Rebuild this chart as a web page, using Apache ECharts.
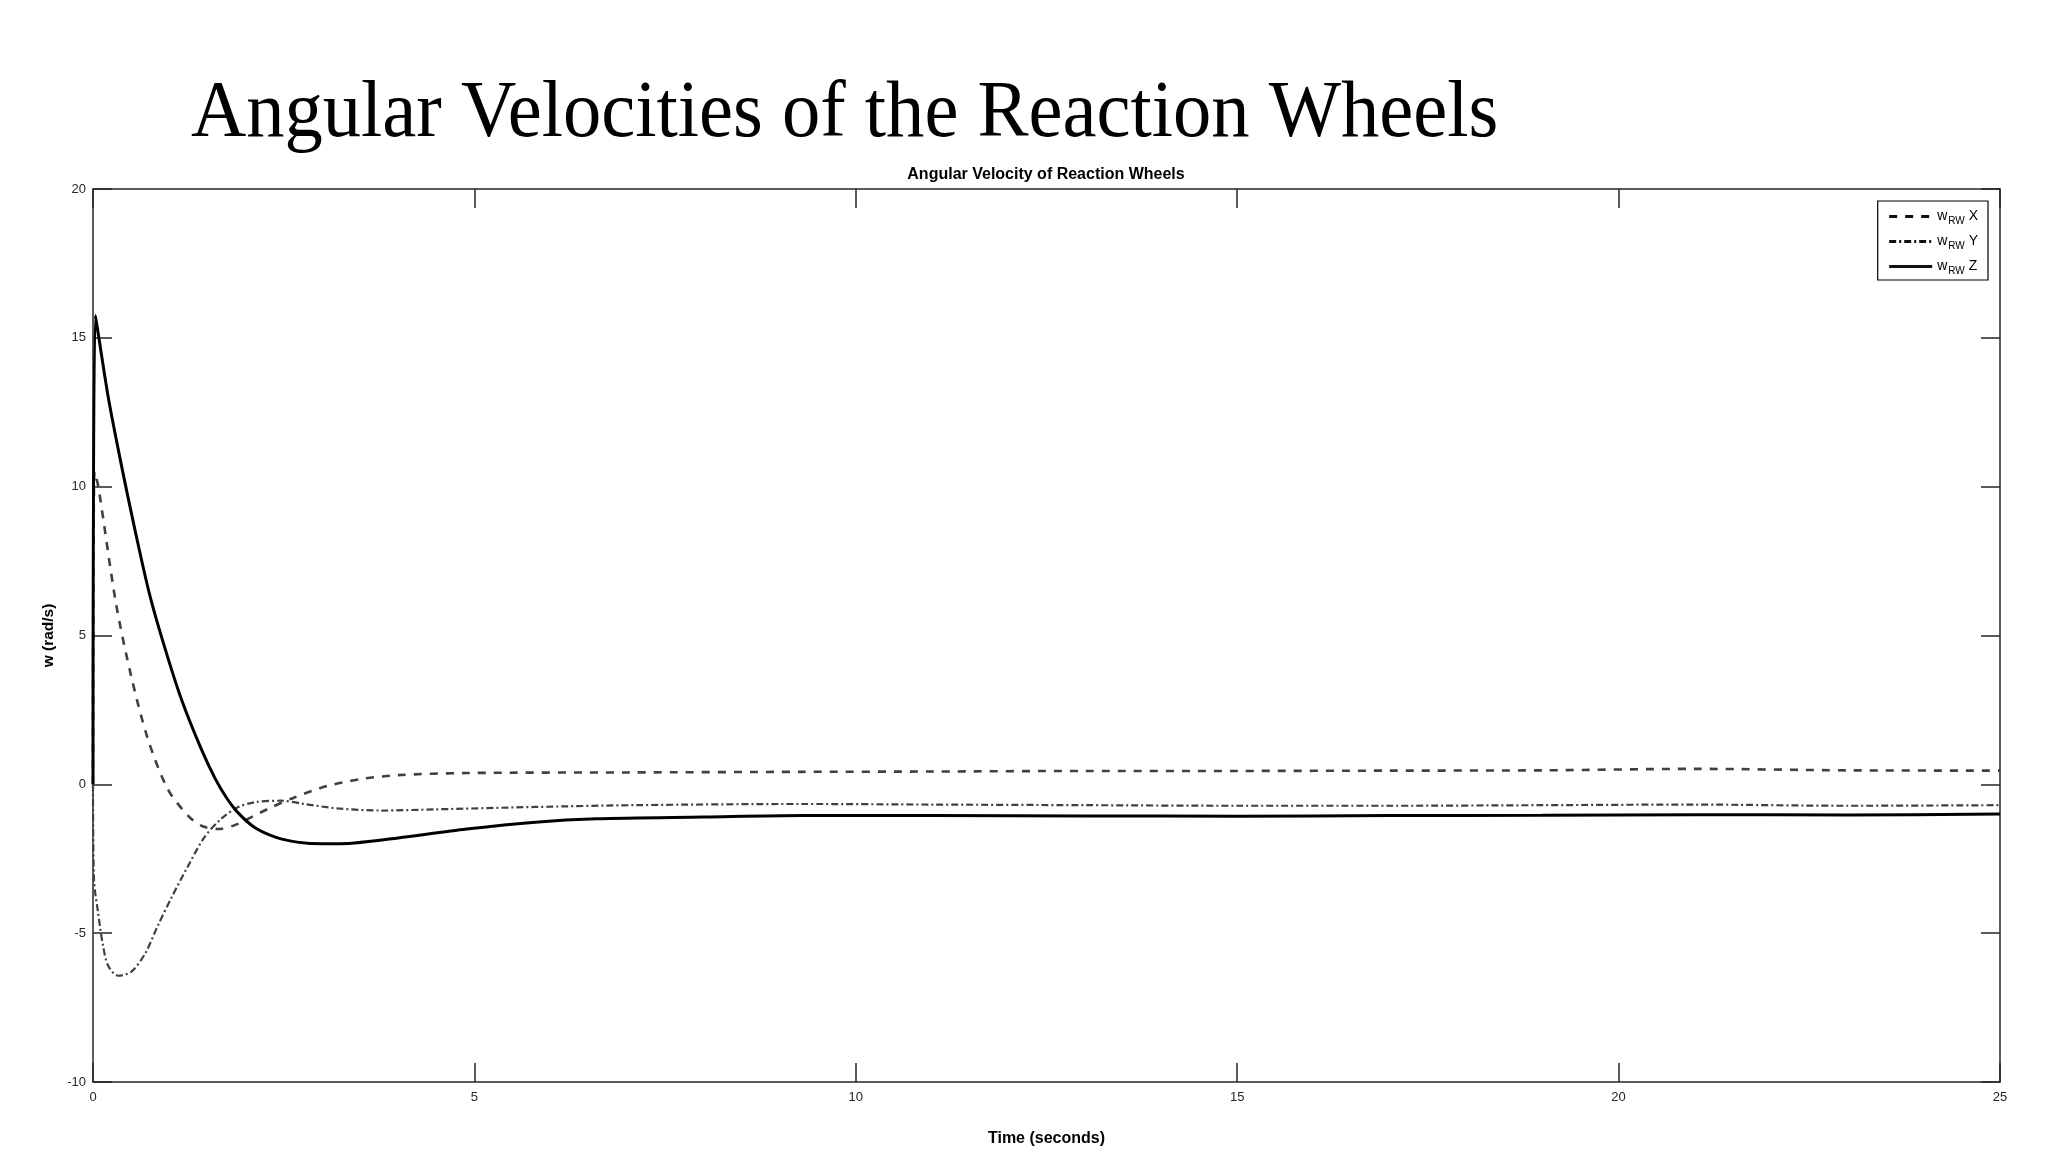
<!DOCTYPE html>
<html>
<head>
<meta charset="utf-8">
<title>Angular Velocities of the Reaction Wheels</title>
<script src="https://cdn.jsdelivr.net/npm/echarts@6/dist/echarts.min.js"></script>
<style>
  html, body { margin: 0; padding: 0; background: #fff; }
  #chart { width: 2048px; height: 1152px; }
</style>
</head>
<body>
<div id="chart"></div>
<script>
// values
const timeX = [0, 0.02, 0.07, 0.3, 0.5, 0.72, 0.98, 1.245, 1.42, 1.64, 1.86, 2.07, 2.29, 2.64, 3.08, 3.52, 4.0, 4.9, 7.0, 9.3, 11, 13, 15, 17, 19, 21, 23, 25];
const valX  = [0, 10.5, 10.0, 6.1, 3.64, 1.52, -0.16, -1.05, -1.39, -1.5, -1.37, -1.11, -0.83, -0.44, -0.05, 0.18, 0.31, 0.38, 0.4, 0.42, 0.43, 0.45, 0.45, 0.46, 0.47, 0.52, 0.47, 0.46];

const timeY = [0, 0.013, 0.066, 0.13, 0.2, 0.33, 0.5, 0.68, 0.85, 1.03, 1.245, 1.46, 1.68, 1.9, 2.12, 2.47, 2.77, 3.21, 3.78, 4.5, 5.8, 7.1, 9.3, 11, 13, 15, 17, 19, 21, 23, 25];
const valY  = [0, -3.2, -4.3, -5.4, -6.1, -6.43, -6.3, -5.7, -4.75, -3.8, -2.75, -1.78, -1.16, -0.77, -0.6, -0.55, -0.66, -0.81, -0.88, -0.84, -0.76, -0.7, -0.66, -0.68, -0.7, -0.72, -0.72, -0.7, -0.68, -0.72, -0.7];

const timeZ = [0, 0.03, 0.2, 0.37, 0.55, 0.74, 0.94, 1.16, 1.42, 1.6, 1.75, 1.9, 2.12, 2.4, 2.7, 3.0, 3.43, 4.0, 4.9, 5.8, 6.6, 8.0, 9.3, 11, 13, 15, 17, 19, 21, 23, 25];
const valZ  = [0, 15.75, 13.0, 10.75, 8.55, 6.4, 4.6, 2.85, 1.18, 0.2, -0.45, -0.95, -1.45, -1.78, -1.95, -2.0, -1.97, -1.8, -1.5, -1.27, -1.16, -1.1, -1.05, -1.05, -1.06, -1.07, -1.05, -1.04, -1.02, -1.03, -1.0];

const xTicks = [0, 5, 10, 15, 20, 25];
const yTicks = [-10, -5, 0, 5, 10, 15, 20];
const seriesNames = ['X', 'Y', 'Z'];

const pairs = (t, v) => t.map((ti, i) => [ti, v[i]]);

const chart = echarts.init(document.getElementById('chart'), null, { renderer: 'canvas' });

const axisColor = '#262626';
const tickLen = 19;

const baseX = {
  type: 'value',
  min: xTicks[0],
  max: xTicks[xTicks.length - 1],
  interval: 5,
  axisLine: { show: true, onZero: false, lineStyle: { color: axisColor, width: 1.5 } },
  axisTick: { show: true, inside: true, length: tickLen, lineStyle: { color: axisColor, width: 1.5 } },
  splitLine: { show: false },
};
const baseY = {
  type: 'value',
  min: yTicks[0],
  max: yTicks[yTicks.length - 1],
  interval: 5,
  axisLine: { show: true, onZero: false, lineStyle: { color: axisColor, width: 1.5 } },
  axisTick: { show: true, inside: true, length: tickLen, lineStyle: { color: axisColor, width: 1.5 } },
  splitLine: { show: false },
};

const legendLabel = (name) => '{w|w}{sub|RW}{w| ' + name + '}';

const option = {
  backgroundColor: '#fff',
  animation: false,
  title: {
    text: 'Angular Velocity of Reaction Wheels',
    left: 1046,
    textAlign: 'center',
    top: 167,
    padding: 0,
    textStyle: { fontFamily: 'Liberation Sans', fontWeight: 'bold', fontSize: 16, color: '#000' },
  },
  graphic: [
    {
      type: 'text',
      x: 191,
      y: 115,
      scaleX: 0.945,
      style: {
        text: 'Angular Velocities of the Reaction Wheels',
        font: '81px "Liberation Serif"',
        fill: '#000',
        align: 'left',
        verticalAlign: 'middle',
      },
    },
  ],
  legend: {
    orient: 'vertical',
    right: 60,
    top: 201,
    width: 103,
    backgroundColor: '#fff',
    borderColor: '#000',
    borderWidth: 1.2,
    borderRadius: 0,
    padding: [6, 10, 4, 10],
    itemWidth: 43,
    itemHeight: 12,
    itemGap: 6,
    itemStyle: { opacity: 0 },
    lineStyle: { width: 3, color: '#111' },
    data: seriesNames,
    formatter: legendLabel,
    textStyle: {
      color: '#000',
      fontFamily: 'Liberation Sans',
      rich: {
        w: { fontSize: 14, fontFamily: 'Liberation Sans', color: '#000', lineHeight: 18, verticalAlign: 'middle' },
        sub: { fontSize: 10, fontFamily: 'Liberation Sans', color: '#000', lineHeight: 18, padding: [9, 0, 0, 1] },
      },
    },
  },
  grid: { left: 93, right: 48, top: 189, bottom: 69, containLabel: false },
  xAxis: [
    Object.assign({}, baseX, {
      position: 'bottom',
      name: 'Time (seconds)',
      nameLocation: 'middle',
      nameGap: 49,
      nameTextStyle: { fontFamily: 'Liberation Sans', fontWeight: 'bold', fontSize: 16, color: '#000' },
      axisLabel: { fontFamily: 'Liberation Sans', fontSize: 13, color: axisColor, margin: 9 },
    }),
    Object.assign({}, baseX, { position: 'top', axisLabel: { show: false } }),
  ],
  yAxis: [
    Object.assign({}, baseY, {
      position: 'left',
      name: 'w (rad/s)',
      nameLocation: 'middle',
      nameGap: 29,
      nameTextStyle: { fontFamily: 'Liberation Sans', fontWeight: 'bold', fontSize: 15.5, color: '#000' },
      axisLabel: { fontFamily: 'Liberation Sans', fontSize: 13, color: axisColor, margin: 7 },
    }),
    Object.assign({}, baseY, { position: 'right', axisLabel: { show: false } }),
  ],
  series: [
    {
      name: 'X',
      type: 'line',
      xAxisIndex: 0,
      yAxisIndex: 0,
      data: pairs(timeX, valX),
      smooth: 0.3,
      symbol: 'none',
      lineStyle: { color: '#404040', width: 2.6, type: [8, 8] },
      itemStyle: { color: '#404040' },
      z: 3,
    },
    {
      name: 'Y',
      type: 'line',
      xAxisIndex: 0,
      yAxisIndex: 0,
      data: pairs(timeY, valY),
      smooth: 0.3,
      symbol: 'none',
      lineStyle: { color: '#404040', width: 2.2, type: [7, 3, 2, 3] },
      itemStyle: { color: '#404040' },
      z: 3,
    },
    {
      name: 'Z',
      type: 'line',
      xAxisIndex: 0,
      yAxisIndex: 0,
      data: pairs(timeZ, valZ),
      smooth: 0.3,
      symbol: 'none',
      lineStyle: { color: '#000', width: 3 },
      itemStyle: { color: '#000' },
      z: 4,
    },
  ],
};

option && chart.setOption(option);
</script>
</body>
</html>
